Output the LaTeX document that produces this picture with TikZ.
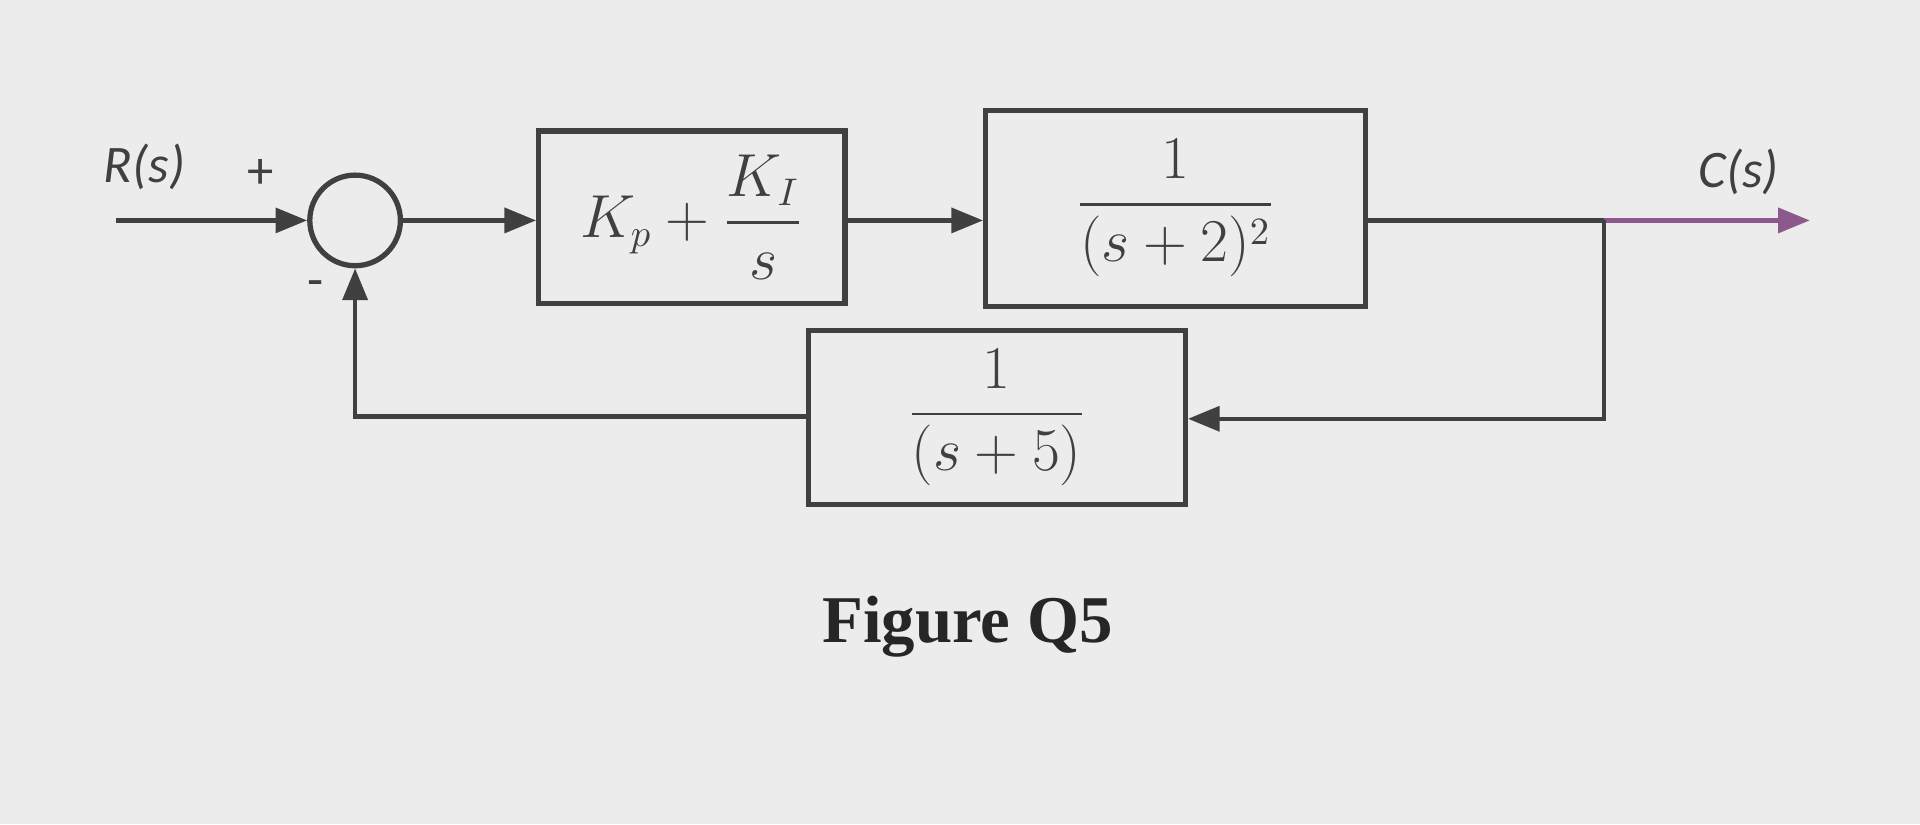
\documentclass[tikz,border=0pt]{standalone}
\usepackage{amsmath}
\usepackage{fontspec}
\setmainfont{Carlito}
\newfontfamily\figfont{Liberation Serif}
\usetikzlibrary{arrows.meta}
\begin{document}
\begin{tikzpicture}[x=0.012245cm,y=-0.012245cm,
  ln/.style={draw=black!75,line width=1.3pt},
  arr/.style={ln,-{Triangle[length=9pt,width=7pt]}},
  blk/.style={draw=black!75,line width=1.5pt,fill=none,inner sep=0pt},
  lbl/.style={font=\fontsize{15}{18}\selectfont,text=black!75}]
\fill[black!10!green!3!gray!15] (0,0) rectangle (1568,673);
\useasboundingbox (0,0) rectangle (1568,673);
\node[blk,minimum width=250*0.012245cm,minimum height=141*0.012245cm] (b1) at (565,177.5) {};
\node[lbl] at (b1) {\fontsize{16}{19}\selectfont$K_p+\dfrac{K_I}{s}$};
\node[blk,minimum width=310*0.012245cm,minimum height=160*0.012245cm] (b2) at (960,170) {};
\node[lbl] at (b2) {\fontsize{16}{19}\selectfont$\dfrac{1}{(s+2)^2}$};
\node[blk,minimum width=308*0.012245cm,minimum height=142*0.012245cm] (b3) at (814,341) {};
\node[lbl] at (b3) {\fontsize{16}{19}\selectfont$\dfrac{1}{(s+5)}$};
\node[circle,draw=black!75,line width=1.5pt,minimum size=74*0.012245cm,inner sep=0pt] (sum) at (290,180) {};
\coordinate (in) at (95,180);
\coordinate (out) at (1478,180);
\coordinate (br) at (1310,180);
\coordinate (bd) at (1310,342);
\coordinate (fl) at (290,340);
\draw[arr] (in) -- (sum.west);
\draw[arr] (sum.east) -- (b1.west|-sum.east);
\draw[arr] (b1.east|-0,180) -- (b2.west|-0,180);
\draw[ln] (b2.east|-0,180) -- (br);
\draw[ln,-{Triangle[length=9pt,width=7pt]},draw=violet!45!gray!90] (br) -- (out);
\draw[arr] (br) -- (bd) -- (b3.east|-bd);
\draw[arr] (b3.west|-fl) -- (fl) -- (sum.south);
\node[lbl] (r) at (118,136) {\itshape R(s)};
\node[lbl] (c) at (1420,140) {\itshape C(s)};
\node[lbl] (p) at (213,142) {+};
\node[lbl] (m) at (258,236) {-};
\node[font=\figfont\bfseries\fontsize{19}{22}\selectfont,text=black!85] (f) at (790,512) {Figure Q5};
\end{tikzpicture}
\end{document}
